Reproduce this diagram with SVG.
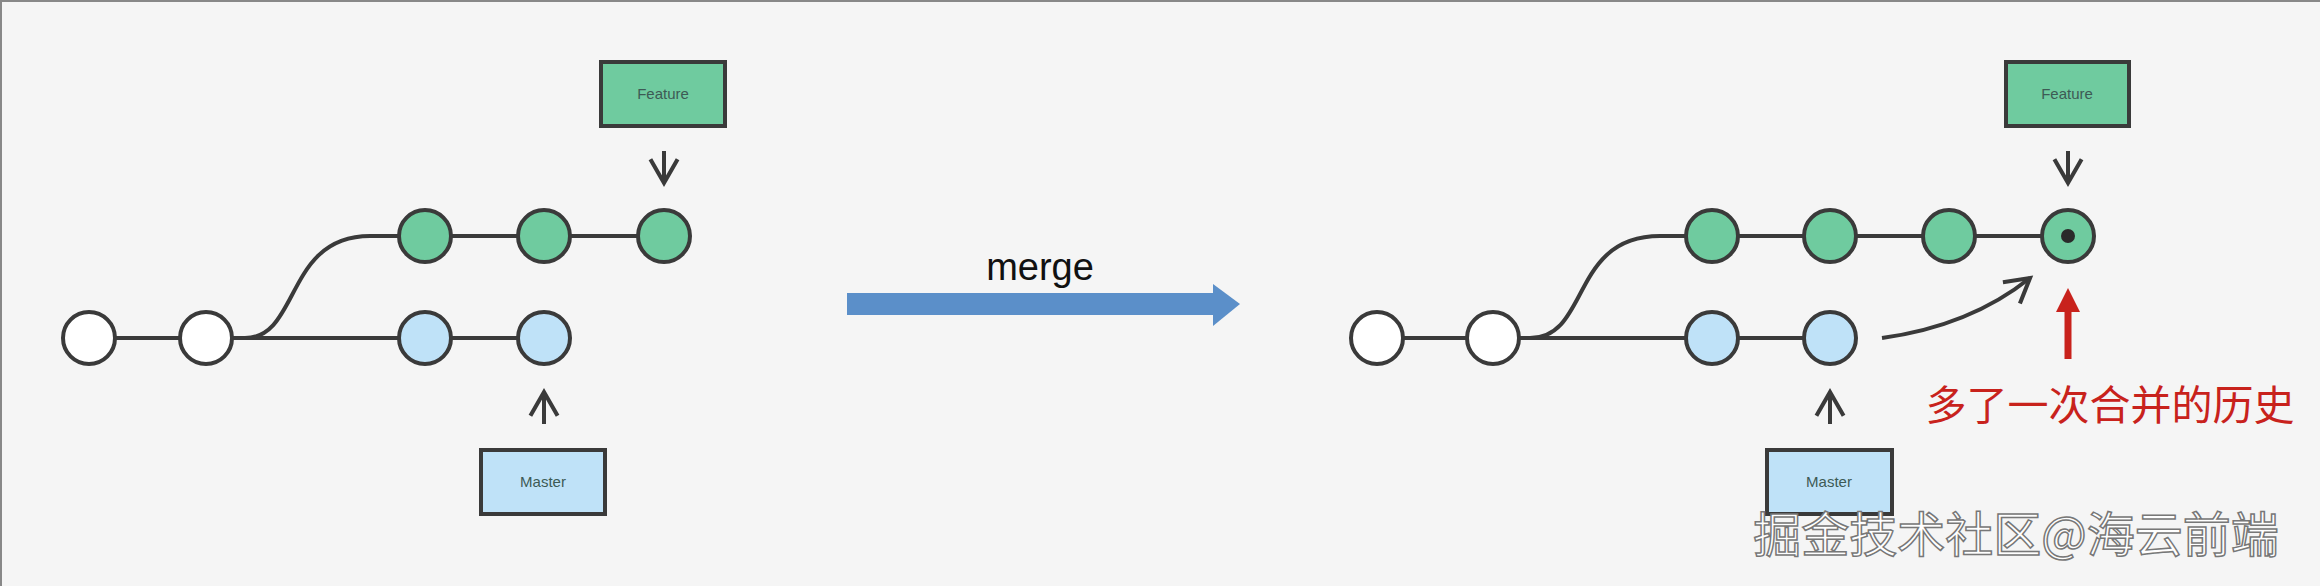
<svg xmlns="http://www.w3.org/2000/svg" width="2320" height="586" viewBox="0 0 2320 586">
<defs>
<style>
.c{stroke:#3a3a3a;stroke-width:4}
.w{fill:#fff}.g{fill:#6fcb9f}.b{fill:#bfe2f8}
.ln{stroke:#3a3a3a;stroke-width:4;fill:none}
.lbl{font-family:"Liberation Sans",Arial,sans-serif;font-size:15px;fill:#3d5a55;text-anchor:middle}
</style>
<marker id="ah2" viewBox="0 0 10 10" refX="8" refY="5" markerWidth="34" markerHeight="34" orient="auto" markerUnits="userSpaceOnUse"><path d="M1 1 L8 5 L1 9" fill="none" stroke="#3a3a3a" stroke-width="1.2"/></marker>
</defs>
<rect width="2320" height="586" fill="#f5f5f5"/>
<path d="M1 586 V1 H2320" fill="none" stroke="#888" stroke-width="2"/>
<g id="connectors">
<path class="ln" d="M89 338 H544"/>
<path class="ln" d="M245 338 C300 338 285 236 370 236 H664"/>
<path class="ln" d="M1377 338 H1830"/>
<path class="ln" d="M1530 338 C1590 338 1570 236 1660 236 H2068"/>
<path class="ln" d="M1882 338 C1940 330 1990 310 2030 278" marker-end="url(#ah2)"/>
<path class="ln" d="M664 151 V183" marker-end="url(#ah2)"/>
<path class="ln" d="M2068 151 V183" marker-end="url(#ah2)"/>
<path class="ln" d="M544 424 V392" marker-end="url(#ah2)"/>
<path class="ln" d="M1830 424 V392" marker-end="url(#ah2)"/>
<path d="M2068 359 V310" stroke="#c8221c" stroke-width="7"/>
<path d="M2056 312 L2068 288 L2080 312 Z" fill="#c8221c"/>
<path d="M847 304 H1213" stroke="#5b8fc9" stroke-width="22"/>
<path d="M1213 284 L1240 304 L1213 326 Z" fill="#5b8fc9"/>
</g>
<g id="left-commits">
<circle class="c w" cx="89" cy="338" r="26"/>
<circle class="c w" cx="206" cy="338" r="26"/>
<circle class="c b" cx="425" cy="338" r="26"/>
<circle class="c b" cx="544" cy="338" r="26"/>
<circle class="c g" cx="425" cy="236" r="26"/>
<circle class="c g" cx="544" cy="236" r="26"/>
<circle class="c g" cx="664" cy="236" r="26"/>
</g>
<g id="left-feature"><rect class="c g" x="601" y="62" width="124" height="64"/><text class="lbl" x="663" y="99">Feature</text></g>
<g id="left-master"><rect class="c b" x="481" y="450" width="124" height="64"/><text class="lbl" x="543" y="487">Master</text></g>
<text x="1040" y="280" font-family="Liberation Sans,Arial,sans-serif" font-size="38" text-anchor="middle" fill="#111">merge</text>
<g id="right-commits">
<circle class="c w" cx="1377" cy="338" r="26"/>
<circle class="c w" cx="1493" cy="338" r="26"/>
<circle class="c b" cx="1712" cy="338" r="26"/>
<circle class="c b" cx="1830" cy="338" r="26"/>
<circle class="c g" cx="1712" cy="236" r="26"/>
<circle class="c g" cx="1830" cy="236" r="26"/>
<circle class="c g" cx="1949" cy="236" r="26"/>
<circle class="c g" cx="2068" cy="236" r="26"/>
<circle cx="2068" cy="236" r="7" fill="#2a2a2a"/>
</g>
<g id="right-feature"><rect class="c g" x="2006" y="62" width="123" height="64"/><text class="lbl" x="2067" y="99">Feature</text></g>
<g id="right-master"><rect class="c b" x="1767" y="450" width="125" height="64"/><text class="lbl" x="1829" y="487">Master</text></g>
<text x="2110" y="420" font-family="Noto Sans CJK SC,sans-serif" font-size="41" text-anchor="middle" fill="#c8221c">多了一次合并的历史</text>
<text x="2016" y="552" font-family="Noto Sans CJK SC,sans-serif" font-size="48" text-anchor="middle" fill="#fff" stroke="#777" stroke-width="1.5">掘金技术社区@海云前端</text>
</svg>
